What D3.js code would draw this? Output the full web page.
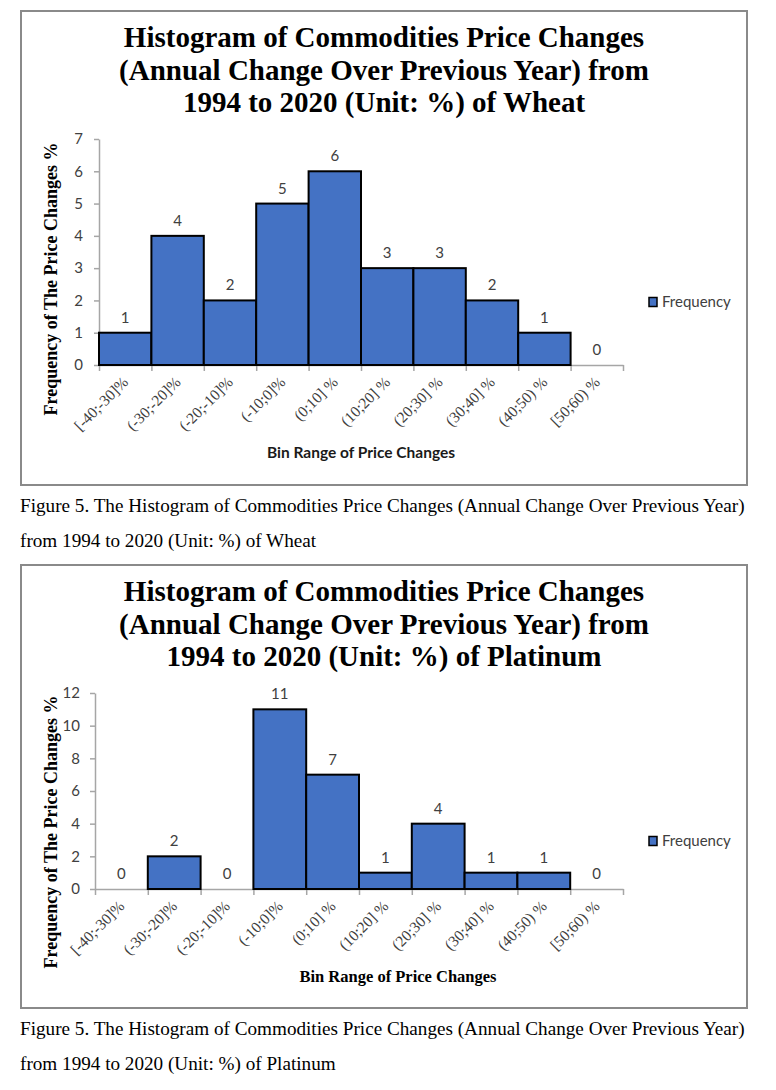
<!DOCTYPE html>
<html>
<head>
<meta charset="utf-8">
<script src="https://cdn.jsdelivr.net/npm/d3@7"></script>
<style>
  body { margin: 0; background: #fff; }
</style>
</head>
<body>
<div id="page"></div>
<script>
// Bin ranges shared by both histograms
const binLabels = ["[-40;-30]%", "(-30;-20]%", "(-20;-10]%", "(-10;0]%", "(0;10] %",
  "(10;20] %", "(20;30] %", "(30;40] %", "(40;50) %", "[50;60) %"];

// Frequencies
const wheatFrequency = [1, 4, 2, 5, 6, 3, 3, 2, 1, 0];
const platinumFrequency = [0, 2, 0, 11, 7, 1, 4, 1, 1, 0];

// y tick labels
const wheatTicks = [0, 1, 2, 3, 4, 5, 6, 7];
const platinumTicks = [0, 2, 4, 6, 8, 10, 12];

const titleLines = ["Histogram of Commodities Price Changes", "(Annual Change Over Previous Year) from"];
const captionLine = "Figure 5. The Histogram of Commodities Price Changes (Annual Change Over Previous Year)";

const serif = '"Times New Roman", "Liberation Serif", Times, serif';
const sans = 'Lato, "Open Sans", sans-serif';
const barColour = "#4472c4";
const axisColour = "#a6a6a6";
const textColour = "#404040";

const svg = d3.select("#page")
  .append("svg")
  .attr("width", 776)
  .attr("height", 1090);

class Histogram {
  constructor(_config, _data) {
    this.config = {
      svg: _config.svg,
      top: _config.top,
      frameHeight: _config.frameHeight,
      commodity: _config.commodity,
      ticks: _config.ticks,
      plot: _config.plot,
      xTitleSerif: _config.xTitleSerif,
      xTitleX: _config.xTitleX,
      yTitleY: _config.yTitleY,
      tickPadding: _config.tickPadding,
    };
    this.data = _data;
    this.initVis();
  }

  initVis() {
    let vis = this;
    const cfg = vis.config;
    const p = cfg.plot;

    vis.g = cfg.svg.append("g");

    // Frame round the chart
    vis.g.append("rect")
      .attr("x", 21)
      .attr("y", cfg.top)
      .attr("width", 726)
      .attr("height", cfg.frameHeight)
      .attr("fill", "none")
      .attr("stroke", "#8a8a8a")
      .attr("stroke-width", 2);

    // Title
    const title = vis.g.append("text")
      .attr("text-anchor", "middle")
      .style("font-family", serif)
      .style("font-weight", "bold")
      .style("font-size", "29px")
      .attr("fill", "#000");
    titleLines.concat([`1994 to 2020 (Unit: %) of ${cfg.commodity}`]).forEach((line, i) => {
      title.append("tspan")
        .attr("x", 384)
        .attr("y", cfg.top + 36 + i * 32.5)
        .text(line);
    });

    // Scales
    vis.xScale = d3.scaleBand().domain(binLabels).range([p.left, p.right]).padding(0);
    vis.xEdge = d3.scaleLinear().domain([0, binLabels.length]).range([p.left, p.right]);
    vis.yScale = d3.scaleLinear()
      .domain([0, d3.max(cfg.ticks)])
      .range([p.bottom, p.top]);

    // Axes (x ticks sit on the bin edges)
    const xAxis = d3.axisBottom(vis.xEdge)
      .tickValues(d3.range(binLabels.length + 1))
      .tickFormat("")
      .tickSize(6)
      .tickSizeOuter(0);

    const yAxis = d3.axisLeft(vis.yScale)
      .tickValues(cfg.ticks)
      .tickSize(5)
      .tickPadding(cfg.tickPadding)
      .tickSizeOuter(0)
      .tickFormat(d3.format("d"));

    vis.xAxisGroup = vis.g.append("g")
      .attr("class", "x-axis")
      .attr("transform", `translate(0,${p.bottom})`)
      .call(xAxis);

    vis.yAxisGroup = vis.g.append("g")
      .attr("class", "y-axis")
      .attr("transform", `translate(${p.left},0)`)
      .call(yAxis);

    vis.g.selectAll(".x-axis path, .x-axis line, .y-axis path, .y-axis line")
      .attr("stroke", axisColour)
      .attr("stroke-width", 1.5);

    vis.yAxisGroup.selectAll("text")
      .attr("fill", textColour)
      .style("font-family", sans)
      .style("font-size", "15px");

    // Rotated bin labels
    vis.g.selectAll(".bin-label")
      .data(binLabels)
      .join("text")
      .attr("class", "bin-label")
      .attr("text-anchor", "end")
      .attr("transform", (d) => `translate(${vis.xScale(d) + vis.xScale.bandwidth() / 2 + 4},${p.bottom + 18}) rotate(-45)`)
      .attr("fill", textColour)
      .style("font-family", serif)
      .style("font-size", "15.5px")
      .text((d) => d);

    // Axis titles
    vis.g.append("text")
      .attr("text-anchor", "middle")
      .attr("transform", `translate(57,${cfg.yTitleY}) rotate(-90)`)
      .style("font-family", serif)
      .style("font-weight", "bold")
      .style("font-size", "18px")
      .text("Frequency of The Price Changes %");

    vis.g.append("text")
      .attr("text-anchor", "middle")
      .attr("x", cfg.xTitleX)
      .attr("y", p.bottom + 93)
      .style("font-family", cfg.xTitleSerif ? serif : sans)
      .style("font-weight", "bold")
      .style("font-size", cfg.xTitleSerif ? "16.5px" : "15.5px")
      .attr("fill", cfg.xTitleSerif ? "#000" : "#1a1a1a")
      .text("Bin Range of Price Changes");

    // Legend
    const legendY = (p.top + p.bottom) / 2 + 50;
    vis.g.append("rect")
      .attr("x", 649)
      .attr("y", legendY - 4.5)
      .attr("width", 8)
      .attr("height", 9)
      .attr("fill", barColour)
      .attr("stroke", "#000")
      .attr("stroke-width", 1.5);
    vis.g.append("text")
      .attr("x", 662)
      .attr("y", legendY + 5)
      .attr("fill", textColour)
      .style("font-family", sans)
      .style("font-size", "15px")
      .text("Frequency");

    // Caption under the frame, squeezed to the reference width
    const capTop = cfg.top + cfg.frameHeight;
    const cap = vis.g.append("g");
    const line1 = cap.append("text")
      .attr("y", capTop + 27)
      .style("font-family", serif)
      .style("font-size", "19px")
      .attr("fill", "#000")
      .text(captionLine);
    cap.append("text")
      .attr("y", capTop + 62)
      .style("font-family", serif)
      .style("font-size", "19px")
      .attr("fill", "#000")
      .text(`from 1994 to 2020 (Unit: %) of ${cfg.commodity}`);
    const w = line1.node().getComputedTextLength();
    cap.attr("transform", `translate(20,0) scale(${725 / w},1)`);

    vis.renderVis();
  }

  renderVis() {
    let vis = this;
    const p = vis.config.plot;
    const rows = binLabels.map((label, i) => ({ label, count: vis.data[i] }));

    vis.g.selectAll(".bar")
      .data(rows.filter((d) => d.count > 0))
      .join("rect")
      .attr("class", "bar")
      .attr("x", (d) => vis.xScale(d.label))
      .attr("y", (d) => vis.yScale(d.count))
      .attr("width", vis.xScale.bandwidth())
      .attr("height", (d) => p.bottom - vis.yScale(d.count))
      .attr("fill", barColour)
      .attr("stroke", "#000")
      .attr("stroke-width", 2);

    vis.g.selectAll(".bar-label")
      .data(rows)
      .join("text")
      .attr("class", "bar-label")
      .attr("text-anchor", "middle")
      .attr("x", (d) => vis.xScale(d.label) + vis.xScale.bandwidth() / 2)
      .attr("y", (d) => vis.yScale(d.count) - 10)
      .attr("fill", textColour)
      .style("font-family", sans)
      .style("font-size", "15px")
      .text((d) => d.count);
  }
}

new Histogram({
  svg: svg,
  top: 11,
  frameHeight: 474,
  commodity: "Wheat",
  ticks: wheatTicks,
  plot: { left: 99, right: 623, top: 139, bottom: 365 },
  xTitleSerif: false,
  xTitleX: 361,
  yTitleY: 279,
  tickPadding: 11,
}, wheatFrequency);

new Histogram({
  svg: svg,
  top: 565,
  frameHeight: 443,
  commodity: "Platinum",
  ticks: platinumTicks,
  plot: { left: 95, right: 623, top: 693, bottom: 889 },
  xTitleSerif: true,
  xTitleX: 398,
  yTitleY: 832,
  tickPadding: 10,
}, platinumFrequency);
</script>
</body>
</html>
